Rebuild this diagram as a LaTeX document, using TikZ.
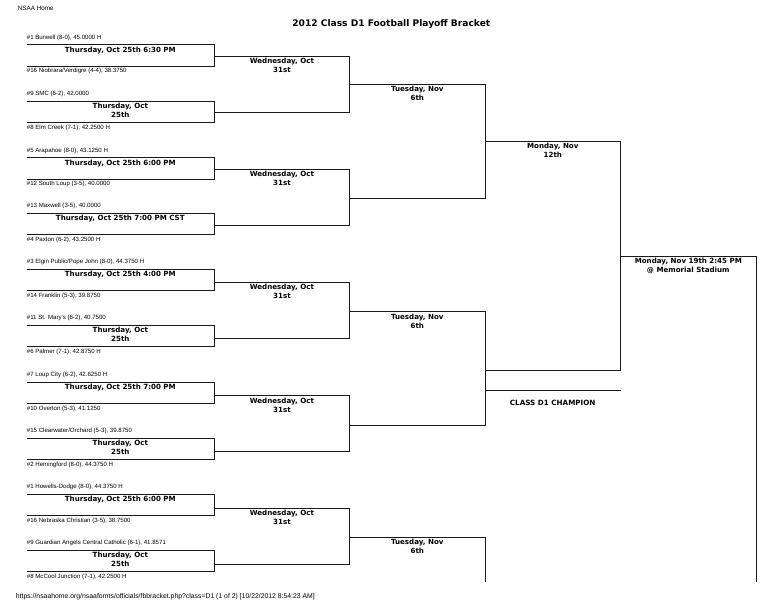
\documentclass[tikz,border=0pt]{standalone}
\usepackage{fontspec}
\setmainfont{Liberation Sans}
\newfontfamily\dvb{DejaVu Sans}
\begin{document}
\begin{tikzpicture}[x=1pt,y=-1pt,
  bline/.style={line width=0.8pt,draw=black!90,line join=miter},
  seedtxt/.style={font=\fontsize{6.1}{7}\selectfont,anchor=base west,inner sep=0pt},
  gamelbl/.style={font=\dvb\bfseries\fontsize{7.1}{9}\selectfont,anchor=base,inner sep=0pt,align=center},
  pagetxt/.style={inner sep=0pt}]
\useasboundingbox (0,0) rectangle (776,600);
% column x positions
\coordinate (xL) at (26.7,0);
\coordinate (xA) at (214,0);
\coordinate (xB) at (349.7,0);
\coordinate (xC) at (485,0);
\coordinate (xD) at (620.7,0);
\coordinate (xE) at (756,0);
\coordinate (pend) at (0,582);
% first round brackets
\foreach \i/\t/\m in {1/44.7/56.3,2/101/112,3/157.7/169.3,4/213.3/225.7,5/269.3/282.3,6/325.3/338,7/382.3/395.7,8/438.3/451.7,9/494.3/508.3,10/550.3/564.3}{
  \coordinate (tl\i) at (26.7,\t);
  \coordinate (tr\i) at (214,\t);
  \coordinate (br\i) at (214,\t+21.5);
  \coordinate (bl\i) at (26.7,\t+21.5);
  \coordinate (o\i) at (214,\m);
  \draw[bline] (tl\i) -- (tr\i) -- (br\i) -- (bl\i);
}
% second round
\foreach \p/\q in {1/2,3/4,5/6,7/8,9/10}{
  \draw[bline] (o\p) -- (o\p -| xB) -- (o\q -| xB) -- (o\q);
}
% third round
\coordinate (t1) at (349.7,84.3);
\coordinate (t2) at (349.7,198);
\coordinate (t3) at (349.7,311.5);
\coordinate (t4) at (349.7,425);
\coordinate (t5) at (349.7,537);
\draw[bline] (t1) -- (t1 -| xC) -- (t2 -| xC) -- (t2);
\draw[bline] (t3) -- (t3 -| xC) -- (t4 -| xC) -- (t4);
\draw[bline] (t5) -- (t5 -| xC) -- (xC |- pend);
% fourth round
\coordinate (u1) at (485,141.3);
\coordinate (u2) at (485,370);
\draw[bline] (u1) -- (u1 -| xD) -- (u2 -| xD) -- (u2);
% final
\coordinate (f1) at (620.7,256);
\draw[bline] (f1) -- (f1 -| xE) -- (xE |- pend);
% champion line
\coordinate (ch1) at (485,390.7);
\draw[bline] (ch1) -- (ch1 -| xD);

% page texts
\node[pagetxt,anchor=base west,font=\fontsize{6.3}{7}\selectfont] (home) at (17.7,10.2) {NSAA Home};
\node[pagetxt,anchor=base,font=\dvb\bfseries\fontsize{9.1}{10}\selectfont] (title) at (391.3,26.4) {2012 Class D1 Football Playoff Bracket};
\node[pagetxt,anchor=base west,font=\fontsize{6.85}{8}\selectfont] (foot) at (15.7,598.0) {https://nsaahome.org/nsaaforms/officials/fbbracket.php?class=D1 (1 of 2) [10/22/2012 8:54:23 AM]};

% seeds
\node[seedtxt] (s1a) at (26.7,39.2) {\#1 Burwell (8-0), 45.0000 H};
\node[seedtxt] (s1b) at (26.7,72.7) {\#16 Niobrara/Verdigre (4-4), 38.3750};
\node[seedtxt] (s2a) at (26.7,95.5) {\#9 SMC (6-2), 42.0000};
\node[seedtxt] (s2b) at (26.7,129) {\#8 Elm Creek (7-1), 42.2500 H};
\node[seedtxt] (s3a) at (26.7,152.2) {\#5 Arapahoe (8-0), 43.1250 H};
\node[seedtxt] (s3b) at (26.7,185.7) {\#12 South Loup (3-5), 40.0000};
\node[seedtxt] (s4a) at (26.7,207.8) {\#13 Maxwell (3-5), 40.0000};
\node[seedtxt] (s4b) at (26.7,241.3) {\#4 Paxton (6-2), 43.2500 H};
\node[seedtxt] (s5a) at (26.7,263.8) {\#3 Elgin Public/Pope John (8-0), 44.3750 H};
\node[seedtxt] (s5b) at (26.7,297.3) {\#14 Franklin (5-3), 39.8750};
\node[seedtxt] (s6a) at (26.7,319.8) {\#11 St. Mary's (6-2), 40.7500};
\node[seedtxt] (s6b) at (26.7,353.3) {\#6 Palmer (7-1), 42.8750 H};
\node[seedtxt] (s7a) at (26.7,376.8) {\#7 Loup City (6-2), 42.6250 H};
\node[seedtxt] (s7b) at (26.7,410.3) {\#10 Overton (5-3), 41.1250};
\node[seedtxt] (s8a) at (26.7,432.8) {\#15 Clearwater/Orchard (5-3), 39.8750};
\node[seedtxt] (s8b) at (26.7,466.3) {\#2 Hemingford (8-0), 44.3750 H};
\node[seedtxt] (s9a) at (26.7,488.8) {\#1 Howells-Dodge (8-0), 44.3750 H};
\node[seedtxt] (s9b) at (26.7,522.3) {\#16 Nebraska Christian (3-5), 38.7500};
\node[seedtxt] (s10a) at (26.7,544.8) {\#9 Guardian Angels Central Catholic (6-1), 41.8571};
\node[seedtxt] (s10b) at (26.7,578.3) {\#8 McCool Junction (7-1), 42.2500 H};

% first round labels
\node[gamelbl] (g1) at (120.3,52.0) {Thursday, Oct 25th 6:30 PM};
\node[gamelbl] (g2) at (120.3,117.3) {Thursday, Oct\\25th};
\node[gamelbl] (g3) at (120.3,165.0) {Thursday, Oct 25th 6:00 PM};
\node[gamelbl] (g4) at (120.3,220.6) {Thursday, Oct 25th 7:00 PM CST};
\node[gamelbl] (g5) at (120.3,276.6) {Thursday, Oct 25th 4:00 PM};
\node[gamelbl] (g6) at (120.3,341.6) {Thursday, Oct\\25th};
\node[gamelbl] (g7) at (120.3,389.6) {Thursday, Oct 25th 7:00 PM};
\node[gamelbl] (g8) at (120.3,454.6) {Thursday, Oct\\25th};
\node[gamelbl] (g9) at (120.3,501.6) {Thursday, Oct 25th 6:00 PM};
\node[gamelbl] (g10) at (120.3,566.6) {Thursday, Oct\\25th};
% second round labels
\node[gamelbl] (w1) at (281.9,72.6) {Wednesday, Oct\\31st};
\node[gamelbl] (w2) at (281.9,185.6) {Wednesday, Oct\\31st};
\node[gamelbl] (w3) at (281.9,298.6) {Wednesday, Oct\\31st};
\node[gamelbl] (w4) at (281.9,412.0) {Wednesday, Oct\\31st};
\node[gamelbl] (w5) at (281.9,524.6) {Wednesday, Oct\\31st};
% third round labels
\node[gamelbl] (v1) at (417.3,100.8) {Tuesday, Nov\\6th};
\node[gamelbl] (v2) at (417.3,328.0) {Tuesday, Nov\\6th};
\node[gamelbl] (v3) at (417.3,553.5) {Tuesday, Nov\\6th};
% fourth round label
\node[gamelbl] (m1) at (552.8,157.6) {Monday, Nov\\12th};
% final label
\node[gamelbl] (fin) at (688.3,272.3) {Monday, Nov 19th 2:45 PM\\@ Memorial Stadium};
\node[gamelbl,font=\dvb\bfseries\fontsize{7.2}{9}\selectfont] (champ) at (552.7,405.6) {CLASS D1 CHAMPION};
\end{tikzpicture}
\end{document}
